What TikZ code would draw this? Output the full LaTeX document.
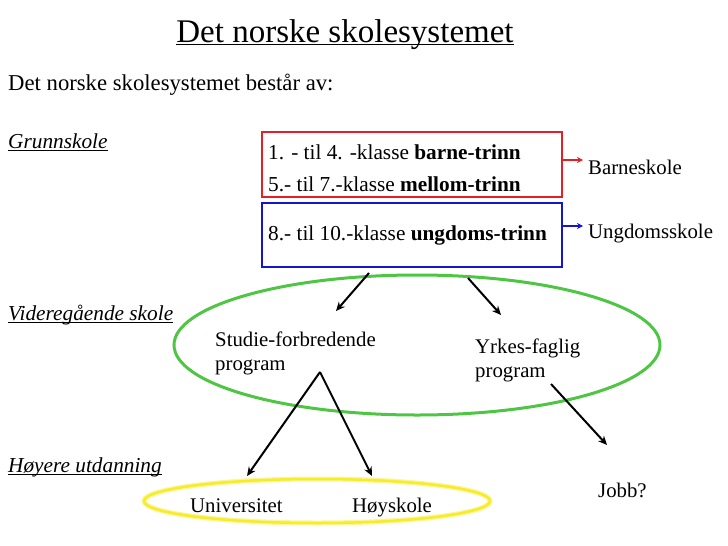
\documentclass[tikz,border=0pt]{standalone}
\usepackage{fontspec}
\setmainfont{Liberation Serif}
\usetikzlibrary{arrows.meta,shapes.geometric}
\definecolor{rod}{RGB}{228,32,36}
\definecolor{blaa}{RGB}{22,22,200}
\definecolor{gronn}{RGB}{78,198,68}
\definecolor{gul}{RGB}{246,236,40}
\newsavebox\strekboks
\newcommand{\strek}[2][1.5pt]{\sbox\strekboks{#2}\rlap{\rule[-3pt]{\wd\strekboks}{#1}}\usebox\strekboks}
\tikzset{
  tittel/.style={font=\fontsize{33}{38}\selectfont, inner sep=0pt, anchor=base},
  ingress/.style={font=\fontsize{22.7}{26}\selectfont, inner sep=0pt, anchor=base west},
  nivaa/.style={font=\fontsize{21.3}{26}\selectfont\itshape, inner sep=0pt, anchor=base west},
  tekst/.style={font=\fontsize{20.8}{24}\selectfont, inner sep=0pt, anchor=base west},
  prog/.style={font=\fontsize{20.8}{24}\selectfont, inner sep=0pt, anchor=north west, align=left},
  ramme/.style={draw=#1, line width=2.5pt, minimum width=300pt, inner sep=0pt},
  ring/.style={draw=#1, ellipse, line width=3pt, inner sep=0pt},
  pil/.style={-{Stealth[length=9pt,width=8pt]}, line width=2pt},
  kortpil/.style={-{Stealth[length=6pt,width=6pt]}, line width=2pt},
}
\begin{document}
\begin{tikzpicture}[x=1pt,y=-1pt]
  \useasboundingbox (0,0) rectangle (728,546);
  % overskrift
  \node[tittel] (tittel) at (345,42) {\strek{Det norske skolesystemet}};
  \node[ingress] (ingress) at (8,90) {Det norske skolesystemet består av:};
  % nivaaer
  \node[nivaa] (grunn) at (8,148) {\strek[1pt]{Grunnskole}};
  \node[nivaa] (vgs) at (8,320) {\strek[1pt]{Videregående skole}};
  \node[nivaa] (hoy) at (8,472) {\strek[1pt]{Høyere utdanning}};
  % grunnskole
  \node[ramme=rod, minimum height=65pt] (barne) at (412,164.5) {};
  \node[ramme=blaa, minimum height=64pt] (ungdom) at (412,235) {};
  \node[tekst, font=\fontsize{21.3}{24}\selectfont] (trinn1) at (268,159) {1. - til 4. -klasse \textbf{barne-trinn}};
  \node[tekst, font=\fontsize{21.3}{24}\selectfont] (trinn2) at (268,191) {5.- til 7.-klasse \textbf{mellom-trinn}};
  \node[tekst, font=\fontsize{21.3}{24}\selectfont] (trinn3) at (268,240) {8.- til 10.-klasse \textbf{ungdoms-trinn}};
  \coordinate (bs) at (583,160);
  \coordinate (us) at (583,226);
  \node[tekst] (barneskole) at (588,174) {Barneskole};
  \node[tekst] (ungdomsskole) at (588,238) {Ungdomsskole};
  \draw[kortpil, rod] (barne.east |- bs) -- (bs);
  \draw[kortpil, blaa] (ungdom.east |- us) -- (us);
  % videregaende
  \node[ring=gronn, minimum width=486pt, minimum height=140pt] (vgsring) at (417,345) {};
  \node[prog] (studie) at (215,332) {Studie-forbredende\\program};
  \node[prog] (yrkes) at (475,339) {Yrkes-faglig\\program};
  \coordinate (u1) at (369,273);
  \coordinate (u2) at (468,278);
  \coordinate (s1) at (336,311);
  \coordinate (y1) at (501,315);
  \draw[pil] (u1) -- (s1);
  \draw[pil] (u2) -- (y1);
  % hoyere utdanning
  \node[ring=gul, minimum width=346pt, minimum height=44pt, line width=2.5pt,
    preaction={draw=gul!45, line width=5pt}] (hoyring) at (317,501) {};
  \node[tekst] (uni) at (190,512) {Universitet};
  \node[tekst] (hoyskole) at (352,512) {Høyskole};
  \node[tekst] (jobb) at (598,497) {Jobb?};
  \coordinate (s2) at (320,372);
  \coordinate (y2) at (551,384);
  \coordinate (ut) at (247,476);
  \coordinate (hs) at (372,476);
  \coordinate (jb) at (607,445);
  \draw[pil] (s2) -- (ut);
  \draw[pil] (s2) -- (hs);
  \draw[pil] (y2) -- (jb);
\end{tikzpicture}
\end{document}
